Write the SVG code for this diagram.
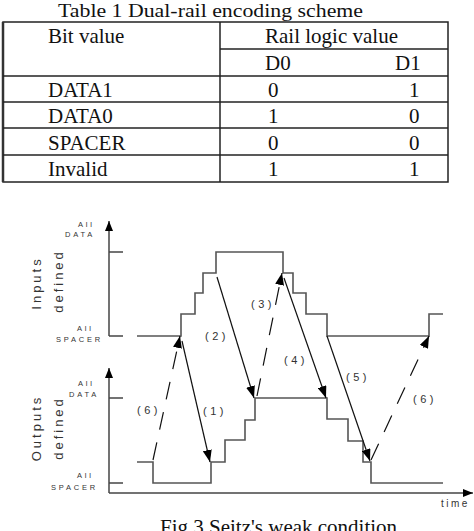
<svg xmlns="http://www.w3.org/2000/svg" width="474" height="531" viewBox="0 0 474 531">
<style>
.t{font-family:"Liberation Serif","Times New Roman",serif;font-size:21px;fill:#111}
.tl{stroke:#222;stroke-width:1.5;fill:none}
.ax{stroke:#444;stroke-width:1.5;fill:none}
.wave{stroke:#555;stroke-width:1.6;fill:none}
.arr{stroke:#111;stroke-width:1.2;fill:none}
.dash{stroke-dasharray:18 13}
.sm{font-family:"Liberation Sans",Arial,sans-serif;font-size:7.5px;fill:#333;letter-spacing:2.8px}
.ylab{font-family:"Liberation Sans",Arial,sans-serif;font-size:13px;fill:#333;letter-spacing:3px;text-anchor:middle}
.lab{font-family:"Liberation Sans",Arial,sans-serif;font-size:11px;fill:#333;letter-spacing:3.5px}
</style>
<defs>
<marker id="ah" markerUnits="userSpaceOnUse" markerWidth="12" markerHeight="9" refX="12" refY="4.5" orient="auto"><path d="M0,0 L12,4.5 L0,9 z" fill="#000"/></marker>
<marker id="axh" markerUnits="userSpaceOnUse" markerWidth="10" markerHeight="8" refX="10" refY="4" orient="auto"><path d="M0,0 L10,4 L0,8 z" fill="#000"/></marker>
</defs>
<g id="table">
<text class="t" x="58" y="17" style="font-size:19px" textLength="305" lengthAdjust="spacingAndGlyphs">Table 1 Dual-rail encoding scheme</text>
<rect class="tl" x="3" y="22" width="445" height="160"/>
<line x1="3" y1="22" x2="3" y2="182" stroke="#333" stroke-width="2.5"/>
<line class="tl" x1="220" y1="22" x2="220" y2="182"/>
<line class="tl" x1="220" y1="49" x2="448" y2="49"/>
<line class="tl" x1="3" y1="76" x2="448" y2="76"/>
<line class="tl" x1="3" y1="102" x2="448" y2="102"/>
<line class="tl" x1="3" y1="128" x2="448" y2="128"/>
<line class="tl" x1="3" y1="155" x2="448" y2="155"/>
<text class="t" x="48" y="43">Bit value</text>
<text class="t" x="265" y="43">Rail logic value</text>
<text class="t" x="265" y="70">D0</text>
<text class="t" x="395" y="70">D1</text>
<text class="t" x="48" y="97">DATA1</text>
<text class="t" x="268" y="97">0</text>
<text class="t" x="409" y="97">1</text>
<text class="t" x="48" y="123">DATA0</text>
<text class="t" x="268" y="123">1</text>
<text class="t" x="409" y="123">0</text>
<text class="t" x="48" y="150">SPACER</text>
<text class="t" x="268" y="150">0</text>
<text class="t" x="409" y="150">0</text>
<text class="t" x="48" y="176">Invalid</text>
<text class="t" x="268" y="176">1</text>
<text class="t" x="409" y="176">1</text>
</g>
<g id="inputs-axis">
<line class="ax" x1="109" y1="336" x2="109" y2="221" marker-end="url(#axh)"/>
<line class="ax" x1="109" y1="252" x2="123" y2="252"/>
<line class="ax" x1="109" y1="336" x2="123" y2="336"/>
<text class="sm" x="78" y="227">All</text>
<text class="sm" x="65" y="237">DATA</text>
<text class="sm" x="77" y="331">All</text>
<text class="sm" x="56" y="342">SPACER</text>
<text class="ylab" transform="translate(41,283) rotate(-90)">Inputs</text>
<text class="ylab" transform="translate(63,281) rotate(-90)">defined</text>
</g>
<g id="outputs-axis">
<line class="ax" x1="109" y1="493" x2="109" y2="368" marker-end="url(#axh)"/>
<line class="ax" x1="109" y1="493" x2="473" y2="493" marker-end="url(#axh)"/>
<line class="ax" x1="109" y1="398" x2="123" y2="398"/>
<line class="ax" x1="109" y1="483" x2="123" y2="483"/>
<text class="sm" x="78" y="386">All</text>
<text class="sm" x="69" y="397">DATA</text>
<text class="sm" x="77" y="478">All</text>
<text class="sm" x="51" y="490">SPACER</text>
<text class="ylab" transform="translate(41,428) rotate(-90)">Outputs</text>
<text class="ylab" transform="translate(63,428) rotate(-90)">defined</text>
<text class="lab" x="441" y="507" style="font-size:10px;letter-spacing:2.5px">time</text>
</g>
<g id="input-wave">
<path class="wave" d="M137,336 H181 V314 H195 V293 H203 V273 H216 V252 H283 V273 H293 V293 H306 V314 H327 V336 H429 V314 H443"/>
</g>
<g id="output-wave">
<path class="wave" d="M137,462 H153 V483 H211 V462 H225 V440 H245 V420 H255 V398 H327 V419 H348 V441 H363 V462 H371 V483 H443"/>
</g>
<g id="connectors">
<line class="arr" x1="182" y1="341" x2="210" y2="462" marker-end="url(#ah)"/>
<line class="arr" x1="217" y1="277" x2="254" y2="398" marker-end="url(#ah)"/>
<line class="arr dash" x1="257" y1="396" x2="282" y2="273" marker-end="url(#ah)"/>
<line class="arr" x1="284" y1="278" x2="326" y2="398" marker-end="url(#ah)"/>
<line class="arr" x1="327" y1="336" x2="370" y2="461" marker-end="url(#ah)"/>
<line class="arr dash" x1="153" y1="460" x2="180" y2="336" marker-end="url(#ah)"/>
<line class="arr dash" x1="371" y1="460" x2="429" y2="336" marker-end="url(#ah)"/>
</g>
<g id="labels">
<text class="lab" x="203" y="415">(1)</text>
<text class="lab" x="205" y="340">(2)</text>
<text class="lab" x="251" y="308">(3)</text>
<text class="lab" x="284" y="364">(4)</text>
<text class="lab" x="346" y="381">(5)</text>
<text class="lab" x="137" y="414">(6)</text>
<text class="lab" x="413" y="403">(6)</text>
</g>
<text class="t" x="160" y="534">Fig.3 Seitz's weak condition</text>
</svg>
